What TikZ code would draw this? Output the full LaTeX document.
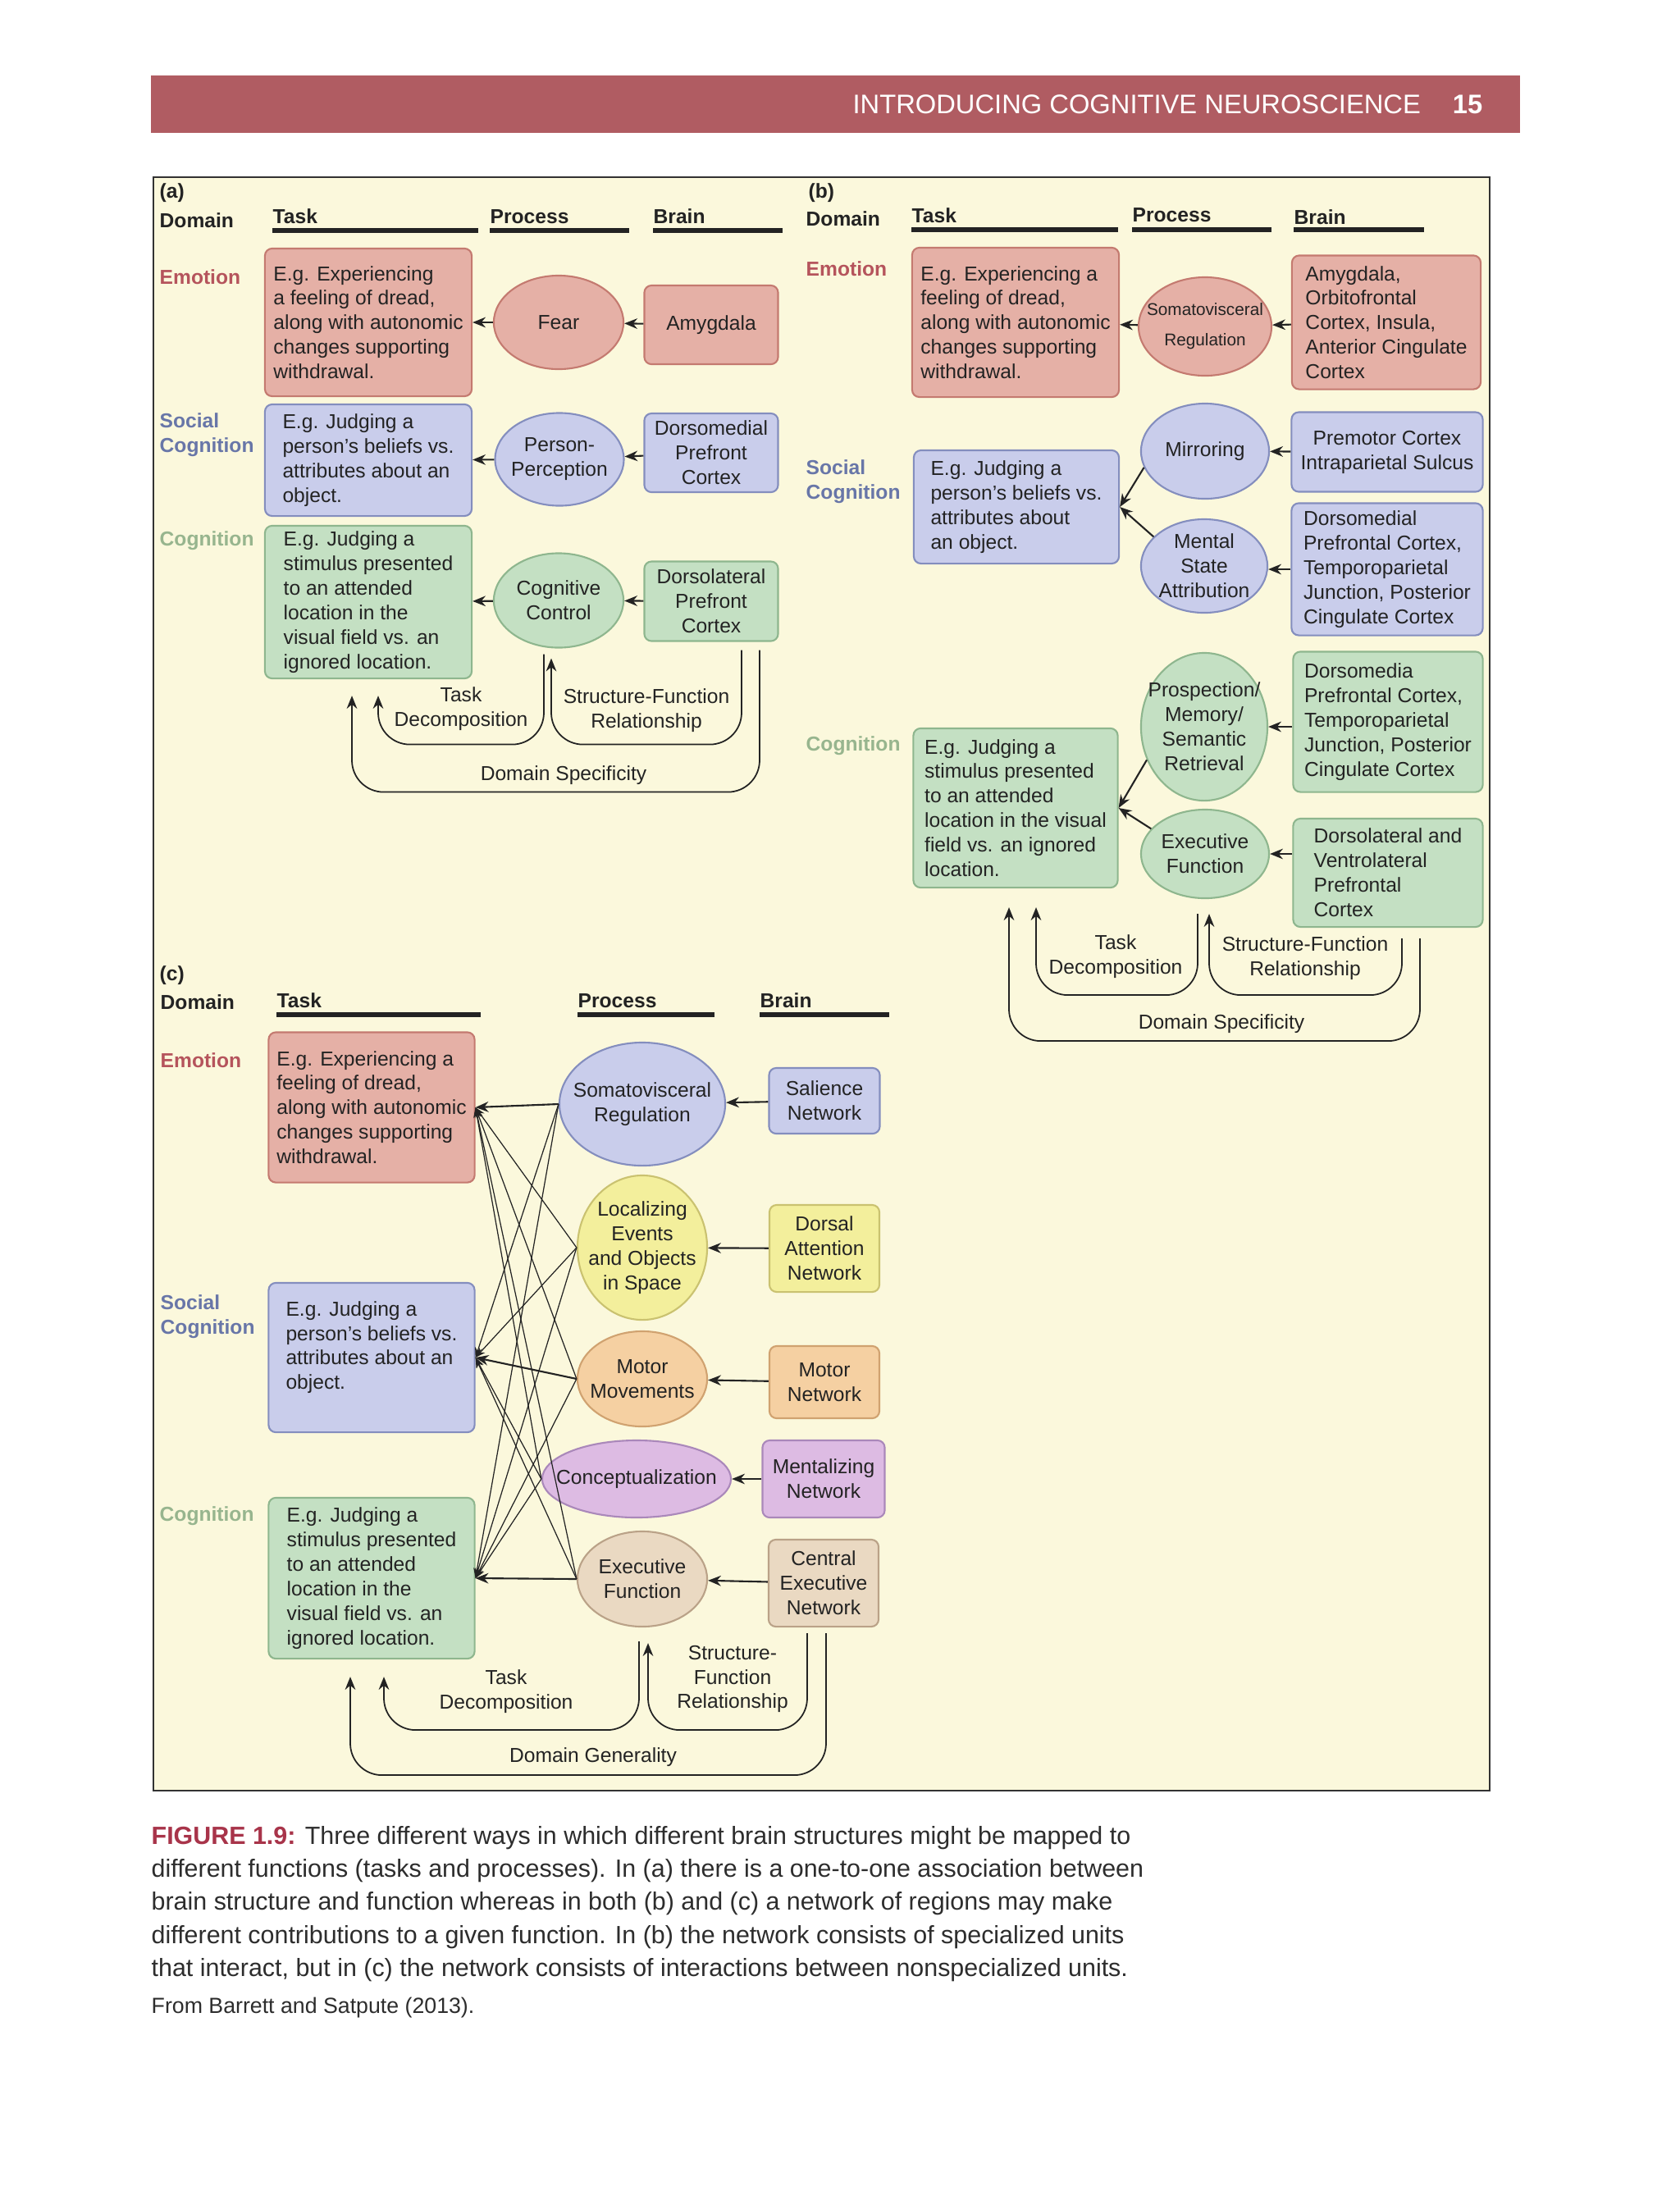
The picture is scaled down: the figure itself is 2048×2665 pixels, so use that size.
\documentclass[tikz,border=0pt]{standalone}
\usepackage{fontspec}
\setmainfont{Liberation Sans}
\usetikzlibrary{shapes.geometric,arrows.meta,calc}

\definecolor{paper}{RGB}{251,248,220}
\definecolor{headbar}{RGB}{176,92,98}
\definecolor{frameline}{RGB}{50,50,50}
\definecolor{ink}{RGB}{35,35,35}
\definecolor{emofill}{RGB}{229,176,166}
\definecolor{emoline}{RGB}{196,122,112}
\definecolor{socfill}{RGB}{201,205,235}
\definecolor{socline}{RGB}{132,142,190}
\definecolor{cogfill}{RGB}{196,224,195}
\definecolor{cogline}{RGB}{142,182,142}
\definecolor{yelfill}{RGB}{243,239,156}
\definecolor{yelline}{RGB}{202,194,112}
\definecolor{orafill}{RGB}{245,208,162}
\definecolor{oraline}{RGB}{208,162,112}
\definecolor{purfill}{RGB}{221,187,227}
\definecolor{purline}{RGB}{170,136,186}
\definecolor{begfill}{RGB}{234,217,194}
\definecolor{begline}{RGB}{186,162,136}
\definecolor{emotxt}{RGB}{181,84,92}
\definecolor{soctxt}{RGB}{104,118,168}
\definecolor{cogtxt}{RGB}{151,181,142}
\definecolor{figred}{RGB}{168,52,74}
\definecolor{captxt}{RGB}{45,45,45}

\begin{document}
\begin{tikzpicture}[x=0.01cm, y=-0.01cm, >={Stealth[length=4.5pt,width=3.6pt]}, font=\fontsize{7}{8.5}\selectfont]
\tikzstyle{roundbox}=[draw, rounded corners=2.5pt, line width=0.6pt, inner sep=0pt, text=ink]
\tikzstyle{task}=[roundbox, align=left]
\tikzstyle{brain}=[roundbox, align=center]
\tikzstyle{brainl}=[roundbox, align=left]
\tikzstyle{proc}=[draw, ellipse, line width=0.6pt, inner sep=-0.2cm, align=center, text=ink]
\tikzstyle{emo}=[fill=emofill, draw=emoline]
\tikzstyle{soc}=[fill=socfill, draw=socline]
\tikzstyle{cog}=[fill=cogfill, draw=cogline]
\tikzstyle{yel}=[fill=yelfill, draw=yelline]
\tikzstyle{ora}=[fill=orafill, draw=oraline]
\tikzstyle{pur}=[fill=purfill, draw=purline]
\tikzstyle{beg}=[fill=begfill, draw=begline]
\tikzstyle{dom}=[anchor=west, align=left, inner sep=0pt, font=\fontsize{7}{8.4}\selectfont\bfseries]
\tikzstyle{colhead}=[anchor=base west, inner sep=0pt, text=ink, font=\fontsize{7}{8.5}\selectfont\bfseries]
\tikzstyle{headrule}=[line width=1.7pt, ink]
\tikzstyle{link}=[->, line width=0.6pt, ink]
\tikzstyle{feedback}=[->, line width=0.5pt, ink, rounded corners=11pt]
\tikzstyle{fan}=[->, line width=0.35pt, ink, >={Stealth[length=3.5pt,width=2.6pt]}]
\tikzstyle{looplabel}=[align=center, inner sep=0pt, text=ink]

\useasboundingbox (0,0) rectangle (2048,2665);
\fill[white] (0,0) rectangle (2048,2665);
\fill[headbar] (184,92) rectangle (1853,162);
\node[anchor=east, text=white, inner sep=0pt, font=\fontsize{9.3}{11}\selectfont] (runhead) at (1808,127) {INTRODUCING COGNITIVE NEUROSCIENCE\hspace{0.39cm}\textbf{15}};
\draw[fill=paper, draw=frameline, line width=0.6pt] (187,216) rectangle (1816,2183);

% (a) one-to-one
\node[colhead] (a-tag) at (194,241) {(a)};
\node[colhead] (a-domain) at (194,277) {Domain};
\node[colhead] (a-task) at (332,272) {Task};
\node[colhead] (a-proc) at (597,272) {Process};
\node[colhead] (a-brain) at (796,272) {Brain};
\draw[headrule] (332,281) -- (583,281);
\draw[headrule] (597,281) -- (767,281);
\draw[headrule] (796,281) -- (954,281);

\node[dom, emotxt] (a-emo) at (194,338) {Emotion};
\node[dom, soctxt] (a-soc) at (194,530) {Social\\Cognition};
\node[dom, cogtxt] (a-cog) at (194,659) {Cognition};

\node[task, emo, minimum width=2.52cm, minimum height=1.80cm] (emota) at (449,393) {E.g. Experiencing\\a feeling of dread,\\along with autonomic\\changes supporting\\withdrawal.};
\node[proc, emo, minimum width=1.58cm, minimum height=1.14cm] (fear) at (681,393) {Fear};
\node[brain, emo, minimum width=1.63cm, minimum height=0.96cm] (amyga) at (867,396) {Amygdala};

\node[task, soc, minimum width=2.52cm, minimum height=1.36cm] (socta) at (449,561) {E.g. Judging a\\person's beliefs vs.\\attributes about an\\object.};
\node[proc, soc, minimum width=1.57cm, minimum height=1.13cm] (pers) at (682,560) {Person-\\Perception};
\node[brain, soc, minimum width=1.63cm, minimum height=0.96cm] (dmpfca) at (867,552) {Dorsomedial\\Prefront\\Cortex};

\node[task, cog, minimum width=2.52cm, minimum height=1.86cm] (cogta) at (449,734) {E.g. Judging a\\stimulus presented\\to an attended\\location in the\\visual field vs. an\\ignored location.};
\node[proc, cog, minimum width=1.58cm, minimum height=1.15cm] (cc) at (681,732) {Cognitive\\Control};
\node[brain, cog, minimum width=1.63cm, minimum height=0.97cm] (dlpfca) at (867,733) {Dorsolateral\\Prefront\\Cortex};

\draw[link] (amyga) -- (fear);
\draw[link] (fear) -- (emota);
\draw[link] (dmpfca) -- (pers);
\draw[link] (pers) -- (socta);
\draw[link] (dlpfca) -- (cc);
\draw[link] (cc) -- (cogta);

\draw[feedback] ($(cc.south)+(-18,7)$) -- ($(cc.south)+(-18,117)$) -| ($(cogta.south)+(12,20)$);
\draw[feedback] ($(dlpfca.south)+(37,10)$) -- ($(dlpfca.south)+(37,125)$) -| ($(cc.south)+(-9,12)$);
\draw[feedback] ($(dlpfca.south)+(59,10)$) -- ($(dlpfca.south)+(59,183)$) -| ($(cogta.south)+(-20,20)$);
\node[looplabel] (a-td) at (562,864) {Task\\Decomposition};
\node[looplabel] (a-sf) at (788,866) {Structure-Function\\Relationship};
\node[looplabel] (a-ds) at (687,945) {Domain Specificity};

% (b) specialized network
\node[colhead] (b-tag) at (985,241) {(b)};
\node[colhead] (b-domain) at (982,275) {Domain};
\node[colhead] (b-task) at (1111,271) {Task};
\node[colhead] (b-proc) at (1380,270) {Process};
\node[colhead] (b-brain) at (1577,273) {Brain};
\draw[headrule] (1111,280) -- (1363,280);
\draw[headrule] (1380,280) -- (1550,280);
\draw[headrule] (1577,280) -- (1736,280);

\node[dom, emotxt] (b-emo) at (982,328) {Emotion};
\node[dom, soctxt] (b-soc) at (982,587) {Social\\Cognition};
\node[dom, cogtxt] (b-cog) at (982,909) {Cognition};

\node[task, emo, minimum width=2.52cm, minimum height=1.82cm] (emotb) at (1238,393) {E.g. Experiencing a\\feeling of dread,\\along with autonomic\\changes supporting\\withdrawal.};
\node[proc, emo, minimum width=1.62cm, minimum height=1.20cm, font=\fontsize{5.9}{10.5}\selectfont] (somb) at (1469,398) {Somatovisceral\\Regulation};
\node[brainl, emo, minimum width=2.30cm, minimum height=1.63cm] (amygb) at (1690,393) {Amygdala,\\Orbitofrontal\\Cortex, Insula,\\Anterior Cingulate\\Cortex};

\node[task, soc, minimum width=2.50cm, minimum height=1.38cm] (soctb) at (1239,618) {E.g. Judging a\\person's beliefs vs.\\attributes about\\an object.};
\node[proc, soc, minimum width=1.56cm, minimum height=1.16cm] (mirr) at (1469,550) {Mirroring};
\node[proc, soc, minimum width=1.54cm, minimum height=1.14cm] (msa) at (1468,690) {Mental\\State\\Attribution};
\node[brain, soc, minimum width=2.33cm, minimum height=0.97cm] (pmc) at (1691,551) {Premotor Cortex\\Intraparietal Sulcus};
\node[brainl, soc, minimum width=2.33cm, minimum height=1.61cm] (dmpfcb) at (1691,694) {Dorsomedial\\Prefrontal Cortex,\\Temporoparietal\\Junction, Posterior\\Cingulate Cortex};

\node[task, cog, minimum width=2.49cm, minimum height=1.94cm] (cogtb) at (1238,985) {E.g. Judging a\\stimulus presented\\to an attended\\location in the visual\\field vs. an ignored\\location.};
\node[proc, cog, minimum width=1.54cm, minimum height=1.80cm] (prosp) at (1468,886) {Prospection/\\Memory/\\Semantic\\Retrieval};
\node[proc, cog, minimum width=1.56cm, minimum height=1.08cm] (exeb) at (1469,1041) {Executive\\Function};
\node[brainl, cog, minimum width=2.31cm, minimum height=1.71cm] (dmpfcc) at (1692,880) {Dorsomedia\\Prefrontal Cortex,\\Temporoparietal\\Junction, Posterior\\Cingulate Cortex};
\node[brainl, cog, minimum width=2.31cm, minimum height=1.32cm] (dlvl) at (1692,1064) {Dorsolateral and\\Ventrolateral\\Prefrontal\\Cortex};

\draw[link] (amygb) -- (somb);
\draw[link] (somb) -- (emotb);
\draw[link] (pmc) -- (mirr);
\draw[link] (dmpfcb.west) -- (dmpfcb.west -| msa.east);
\draw[link] (mirr.195) -- (soctb.east);
\draw[link] (msa.150) -- (soctb.east);
\draw[link] (prosp.east -| dmpfcc.west) -- (prosp.east);
\draw[link] (exeb.east -| dlvl.west) -- (exeb.east);
\draw[link] (prosp.210) -- (cogtb.east);
\draw[link] (exeb.155) -- (cogtb.east);

\draw[feedback] ($(exeb.south)+(-9,18)$) -- ($(exeb.south)+(-9,117)$) -| ($(cogtb.south)+(25,23)$);
\draw[feedback] ($(dlvl.south)+(17,13)$) -- ($(dlvl.south)+(17,82)$) -| ($(exeb.south)+(5,18)$);
\draw[feedback] ($(dlvl.south)+(39,13)$) -- ($(dlvl.south)+(39,138)$) -| ($(cogtb.south)+(-8,23)$);
\node[looplabel] (b-td) at (1360,1166) {Task\\Decomposition};
\node[looplabel] (b-sf) at (1591,1168) {Structure-Function\\Relationship};
\node[looplabel] (b-ds) at (1489,1248) {Domain Specificity};

% (c) nonspecialized network
\node[colhead] (c-tag) at (194,1195) {(c)};
\node[colhead] (c-domain) at (195,1230) {Domain};
\node[colhead] (c-task) at (337,1228) {Task};
\node[colhead] (c-proc) at (704,1228) {Process};
\node[colhead] (c-brain) at (926,1228) {Brain};
\draw[headrule] (337,1237) -- (586,1237);
\draw[headrule] (704,1237) -- (871,1237);
\draw[headrule] (926,1237) -- (1084,1237);

\node[dom, emotxt] (c-emo) at (195,1293) {Emotion};
\node[dom, soctxt] (c-soc) at (195,1605) {Social\\Cognition};
\node[dom, cogtxt] (c-cog) at (194,1848) {Cognition};

\node[task, emo, minimum width=2.51cm, minimum height=1.83cm] (emoc) at (453,1350) {E.g. Experiencing a\\feeling of dread,\\along with autonomic\\changes supporting\\withdrawal.};
\node[task, soc, minimum width=2.51cm, minimum height=1.82cm] (socc) at (453,1655) {E.g. Judging a\\person's beliefs vs.\\attributes about an\\object.\\[0pt]};
\node[task, cog, minimum width=2.51cm, minimum height=1.96cm] (cogc) at (453,1924) {E.g. Judging a\\stimulus presented\\to an attended\\location in the\\visual field vs. an\\ignored location.};

\node[proc, soc, minimum width=2.02cm, minimum height=1.50cm] (soma) at (783,1346) {Somatovisceral\\Regulation};
\node[proc, yel, minimum width=1.58cm, minimum height=1.76cm] (loc) at (783,1521) {Localizing\\Events\\and Objects\\in Space};
\node[proc, ora, minimum width=1.58cm, minimum height=1.16cm] (mot) at (783,1681) {Motor\\Movements};
\node[proc, pur, minimum width=2.30cm, minimum height=0.94cm] (conc) at (776,1803) {Conceptualization};
\node[proc, beg, minimum width=1.58cm, minimum height=1.16cm] (exe) at (783,1925) {Executive\\Function};

\node[brain, soc, minimum width=1.35cm, minimum height=0.80cm] (sal) at (1005,1342) {Salience\\Network};
\node[brain, yel, minimum width=1.34cm, minimum height=1.06cm] (dan) at (1005,1522) {Dorsal\\Attention\\Network};
\node[brain, ora, minimum width=1.34cm, minimum height=0.88cm] (motn) at (1005,1685) {Motor\\Network};
\node[brain, pur, minimum width=1.49cm, minimum height=0.94cm] (ment) at (1004,1803) {Mentalizing\\Network};
\node[brain, beg, minimum width=1.34cm, minimum height=1.06cm] (cen) at (1004,1930) {Central\\Executive\\Network};

\foreach \b/\p in {sal/soma, dan/loc, motn/mot, ment/conc, cen/exe}
    \draw[link] (\b) -- (\p);
\foreach \p/\t in {soma/socc, soma/cogc, loc/emoc, loc/socc, loc/cogc, mot/emoc, mot/cogc, conc/emoc, conc/socc, conc/cogc, exe/emoc, exe/socc}
    \draw[fan] (\p.west) -- (\t.east);
\foreach \p/\t in {soma/emoc, mot/socc, exe/cogc}
    \draw[link] (\p.west) -- (\t.east);

\draw[feedback] ($(exe.south)+(-4,17)$) -- ($(exe.south)+(-4,125)$) -| ($(cogc.south)+(15,21)$);
\draw[feedback] ($(cen.south)+(-20,7)$) -- ($(cen.south)+(-20,125)$) -| ($(exe.south)+(7,19)$);
\draw[feedback] ($(cen.south)+(3,7)$) -- ($(cen.south)+(3,180)$) -| ($(cogc.south)+(-26,21)$);
\node[looplabel] (c-td) at (617,2062) {Task\\Decomposition};
\node[looplabel] (c-sf) at (893,2047) {Structure-\\Function\\Relationship};
\node[looplabel] (c-dg) at (723,2142) {Domain Generality};

% caption
\node[anchor=north west, align=left, inner sep=0pt, text=captxt, font=\fontsize{8.65}{11.4}\selectfont] (caption) at (184,2226) {\textbf{\color{figred}FIGURE 1.9:} Three different ways in which different brain structures might be mapped to\\different functions (tasks and processes). In (a) there is a one-to-one association between\\brain structure and function whereas in both (b) and (c) a network of regions may make\\different contributions to a given function. In (b) the network consists of specialized units\\that interact, but in (c) the network consists of interactions between nonspecialized units.};
\node[anchor=base west, inner sep=0pt, text=captxt, font=\fontsize{7.6}{9}\selectfont] (source) at (184,2454) {From Barrett and Satpute (2013).};
\end{tikzpicture}
\end{document}
